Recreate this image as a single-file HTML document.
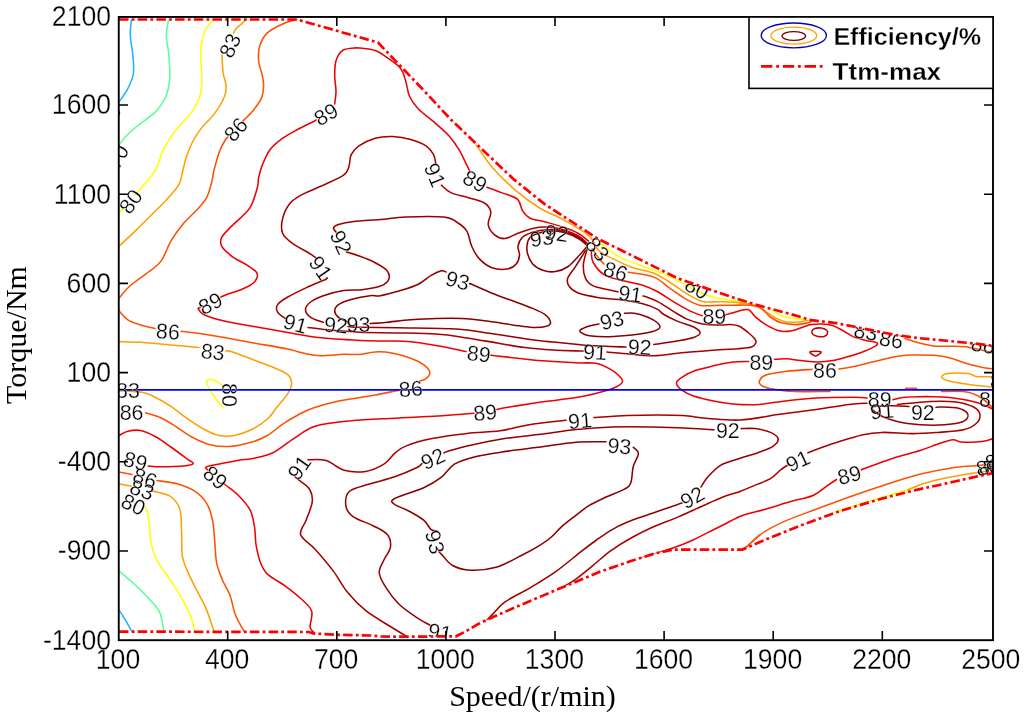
<!DOCTYPE html>
<html><head><meta charset="utf-8"><title>Efficiency map</title>
<style>
html,body{margin:0;padding:0;background:#fff;}
body{width:1024px;height:719px;overflow:hidden;}
svg{display:block;}
.tk{font-family:"Liberation Sans",Arial,sans-serif;font-size:28.6px;fill:#000;stroke:#fff;stroke-width:0.3px;}
.lb{font-family:"Liberation Sans",Arial,sans-serif;font-size:21.4px;fill:#000;text-anchor:middle;stroke:#fff;stroke-width:0.25px;}
.ax{font-family:"Liberation Serif","Times New Roman",serif;font-size:30px;fill:#000;text-anchor:middle;}
.lg{font-family:"Liberation Sans",Arial,sans-serif;font-size:24.3px;font-weight:bold;fill:#000;stroke:#fff;stroke-width:0.3px;}
.c{fill:none;stroke-width:1.55;stroke-linejoin:round;stroke-linecap:round;}
</style></head><body>
<svg width="1024" height="719" viewBox="0 0 1024 719">
<rect width="1024" height="719" fill="#fff"/>
<defs><clipPath id="cp"><rect x="119" y="17" width="874" height="623"/></clipPath>
<clipPath id="cq"><path d="M119.0 19.5L297.0 19.5L378.0 42.5L403.2 69.0L420.0 86.5L451.3 120.0L482.5 149.7L513.8 179.4L545.0 204.4L576.3 224.7L598.0 238.8L638.1 258.6L677.2 278.1L716.3 291.8L737.6 299.0L764.0 307.0L790.3 314.0L811.4 320.2L834.3 322.8L860.6 328.0L895.8 335.0L917.8 338.0L954.8 341.6L975.6 343.6L993.0 345.8L993.0 473.0L972.0 477.6L955.9 481.2L936.0 485.7L917.8 489.6L898.8 494.2L879.7 499.2L841.6 510.5L803.5 524.4L765.4 539.7L742.5 549.6L673.0 549.6L655.0 553.4L630.0 561.3L598.8 572.2L561.3 587.8L520.6 605.0L490.0 618.4L477.5 624.4L466.0 631.3L456.0 636.3L407.0 636.7L380.0 636.5L372.0 635.5L339.0 634.8L314.0 633.6L309.0 632.0L119.0 631.6Z"/></clipPath></defs>
<g clip-path="url(#cp)">
<g clip-path="url(#cq)">

<path class="c" stroke="#1eb4ff" d="M131.6 18.0C131.4 20.9 130.1 29.1 130.3 35.4C130.5 41.7 132.4 49.4 132.9 55.7C133.4 62.1 134.2 68.0 133.4 73.5C132.6 79.0 130.2 84.0 127.8 88.7C125.4 93.5 120.5 99.8 119.0 102.0"/>
<path class="c" stroke="#1eb4ff" d="M119.0 610.0C120.2 611.9 123.8 617.3 126.1 621.1C128.3 624.9 131.4 631.0 132.5 633.0"/>
<path class="c" stroke="#5aff96" d="M168.9 18.0C168.5 20.9 166.4 29.1 166.4 35.4C166.4 41.7 168.4 48.5 168.9 55.7C169.4 62.9 170.2 71.8 169.7 78.6C169.2 85.4 168.2 90.8 165.9 96.3C163.6 101.8 160.4 106.7 155.7 111.6C151.0 116.5 143.0 121.3 137.9 125.5C132.8 129.7 128.3 133.8 125.2 137.0C122.0 140.2 120.0 143.7 119.0 145.0"/>
<path class="c" stroke="#5aff96" d="M119.0 571.0C121.4 573.0 128.6 578.7 133.4 583.2C138.2 587.7 143.6 592.9 148.0 597.8C152.4 602.7 157.0 606.5 159.7 612.4C162.4 618.3 163.3 629.6 164.0 633.0"/>
<path class="c" stroke="#ffff00" d="M214.1 19.0C212.6 20.9 207.3 25.9 205.2 30.3C203.1 34.7 202.1 40.5 201.4 45.6C200.7 50.7 200.8 54.5 200.9 60.8C201.0 67.1 202.2 77.2 201.9 83.6C201.6 89.9 200.7 94.0 198.9 98.9C197.1 103.8 194.7 108.2 191.3 112.8C187.9 117.4 182.0 122.8 178.6 126.8C175.2 130.8 173.7 132.8 170.9 137.0C168.2 141.2 164.4 147.1 162.1 152.2C159.8 157.3 159.3 162.8 157.0 167.4C154.7 172.1 151.1 176.3 148.1 180.1C145.1 183.9 141.4 187.8 139.2 190.3C137.0 192.8 135.7 194.2 135.0 195.0"/>
<path class="c" stroke="#ffff00" d="M124.0 208.0C123.2 208.8 119.8 212.2 119.0 213.0"/>
<path class="c" stroke="#ffff00" d="M143.0 506.0C143.6 506.5 145.4 505.9 146.5 509.0C147.6 512.1 148.7 519.2 149.4 524.7C150.1 530.2 149.7 536.4 150.9 542.3C152.1 548.1 153.8 554.0 156.7 559.8C159.6 565.6 164.2 571.0 168.4 577.3C172.6 583.6 177.9 591.5 181.6 597.8C185.2 604.1 188.0 609.4 190.3 615.3C192.6 621.2 194.5 630.0 195.3 633.0"/>
<path class="c" stroke="#ffff00" d="M222.0 385.0C220.5 384.1 215.4 380.2 212.8 379.7C210.2 379.2 206.3 379.4 206.5 382.2C206.7 384.9 211.3 392.0 214.1 396.2C216.8 400.4 221.5 405.7 223.0 407.6"/>
<path class="c" stroke="#ffff00" d="M599.0 242.0C602.3 244.4 612.1 252.9 618.6 256.6C625.1 260.4 629.6 261.2 638.1 264.5C646.6 267.8 661.2 272.6 669.4 276.2C677.5 279.8 680.5 282.6 687.0 285.9C693.5 289.1 700.9 293.2 708.4 295.7C715.9 298.1 726.0 299.6 731.9 300.6C737.8 301.6 741.6 301.4 743.6 301.6"/>
<path class="c" stroke="#ffff00" d="M771.0 309.6C772.8 310.6 777.7 314.3 781.5 315.8C785.3 317.3 789.7 317.8 793.8 318.4C797.9 319.0 804.0 319.1 806.1 319.3"/>
<path class="c" stroke="#ffff00" d="M835.0 512.0C842.5 509.7 866.9 502.1 879.7 498.2C892.5 494.3 906.6 490.1 912.0 488.5"/>
<path class="c" stroke="#ffa000" d="M247.1 19.0C245.4 20.5 239.3 25.5 237.0 27.8C234.7 30.1 234.1 32.1 233.5 33.0"/>
<path class="c" stroke="#ffa000" d="M222.0 55.0C222.1 56.2 222.1 58.9 222.3 62.0C222.5 65.1 222.6 69.6 223.2 73.5C223.8 77.4 225.9 81.3 226.1 85.2C226.3 89.1 226.3 92.2 224.3 97.0C222.3 101.8 217.9 108.9 214.1 114.1C210.3 119.3 205.0 123.4 201.4 128.1C197.8 132.8 195.0 137.1 192.5 142.0C190.0 146.9 187.9 152.2 186.2 157.3C184.5 162.4 183.7 167.8 182.4 172.5C181.1 177.2 181.3 180.5 178.6 185.2C175.8 189.9 170.6 195.4 165.9 200.5C161.2 205.6 155.7 210.6 150.6 215.7C145.5 220.8 140.7 225.8 135.4 230.9C130.1 236.0 121.7 243.6 119.0 246.2"/>
<path class="c" stroke="#ffa000" d="M119.0 341.6C122.6 341.7 131.8 341.8 140.5 342.3C149.2 342.9 161.2 344.0 170.9 344.9C180.7 345.8 194.3 347.1 199.0 347.5"/>
<path class="c" stroke="#ffa000" d="M226.0 351.0C227.0 351.1 227.5 350.3 231.9 351.7C236.3 353.1 245.4 356.8 252.2 359.4C259.0 361.9 266.6 364.5 272.5 367.0C278.4 369.5 284.6 371.9 287.8 374.6C291.0 377.4 291.6 380.3 291.6 383.5C291.6 386.7 290.1 389.8 287.8 393.6C285.5 397.4 281.0 402.1 277.6 406.3C274.2 410.5 271.6 415.2 267.4 419.0C263.2 422.8 257.7 426.4 252.2 429.2C246.7 431.9 239.9 434.4 234.4 435.5C228.9 436.6 224.3 436.6 219.2 435.5C214.1 434.4 209.5 432.1 204.0 429.2C198.5 426.2 191.7 421.6 186.2 417.8C180.7 414.0 176.0 409.7 170.9 406.3C165.8 402.9 160.3 399.8 155.7 397.5C151.0 395.2 149.1 393.5 143.0 392.4C136.9 391.2 123.0 390.9 119.0 390.6"/>
<path class="c" stroke="#ffa000" d="M119.0 484.0C121.0 484.3 129.0 485.7 131.0 486.0"/>
<path class="c" stroke="#ffa000" d="M152.0 491.0C152.8 491.2 153.5 491.0 156.7 492.0C159.9 493.0 167.4 494.0 171.3 497.0C175.2 500.0 178.4 504.0 180.1 510.1C181.8 516.2 181.2 525.7 181.6 533.5C182.0 541.3 181.3 550.1 182.5 556.9C183.7 563.7 186.4 568.6 188.9 574.4C191.4 580.2 194.7 586.1 197.6 591.9C200.5 597.7 203.6 602.5 206.4 609.4C209.2 616.2 213.2 629.1 214.6 633.0"/>
<path class="c" stroke="#ffa000" d="M476.3 145.0C478.9 148.7 485.6 159.6 491.9 166.9C498.1 174.2 506.0 182.0 513.8 188.8C521.6 195.6 530.5 202.3 538.8 207.5C547.1 212.7 555.5 215.3 563.8 220.0C572.1 224.7 582.9 230.5 588.8 235.6C594.7 240.7 595.0 247.0 599.0 250.8C603.0 254.6 607.2 255.8 612.7 258.6C618.2 261.4 625.4 265.0 632.3 267.4C639.1 269.8 647.6 270.8 653.8 273.2C660.0 275.6 663.9 278.6 669.4 282.0C674.9 285.4 681.5 290.6 687.0 293.8C692.5 297.1 697.1 300.2 702.6 301.5C708.1 302.8 714.2 301.5 720.0 301.7C725.8 301.9 731.7 302.0 737.6 302.6C743.5 303.2 750.5 303.7 755.2 305.2C759.9 306.7 762.2 309.2 765.7 311.4C769.2 313.6 772.7 316.6 776.2 318.4C779.7 320.1 783.0 321.3 786.8 321.9C790.6 322.5 795.6 322.2 799.1 321.9C802.6 321.6 806.5 320.5 808.0 320.2"/>
<path class="c" stroke="#ffa000" d="M993.0 376.9C990.1 376.8 979.8 376.9 975.9 376.4C972.0 375.9 972.6 374.4 969.7 373.8C966.9 373.2 962.7 373.0 958.8 373.0C954.9 373.0 949.2 373.1 946.3 373.8C943.4 374.5 941.1 376.0 941.6 377.2C942.1 378.4 946.0 380.1 949.4 381.1C952.8 382.1 958.0 382.8 961.9 383.4C965.8 384.0 968.6 384.5 972.8 385.0C977.0 385.5 983.5 386.2 986.9 386.6C990.3 387.0 992.0 387.2 993.0 387.3"/>
<path class="c" stroke="#ffa000" d="M907.6 490.1C910.1 489.1 916.0 485.9 922.8 483.8C929.6 481.7 938.9 479.4 948.2 477.5C957.5 475.6 971.2 473.6 978.7 472.4C986.2 471.1 990.6 470.4 993.0 470.0"/>
<path class="c" stroke="#ff5000" d="M297.9 19.0C295.4 19.8 287.8 21.7 282.7 24.0C277.6 26.3 271.2 29.3 267.4 32.9C263.6 36.5 261.3 41.0 259.8 45.6C258.3 50.2 258.2 55.7 258.6 60.8C259.0 65.9 261.6 71.8 262.4 76.0C263.2 80.2 263.8 82.4 263.6 86.2C263.4 90.0 263.0 94.7 261.1 98.9C259.2 103.1 255.2 107.9 252.2 111.6C249.2 115.3 244.5 119.4 243.0 121.0"/>
<path class="c" stroke="#ff5000" d="M228.0 137.0C227.6 137.4 227.0 137.0 225.5 139.5C224.0 142.0 221.1 147.1 219.2 152.2C217.3 157.3 215.4 164.9 214.1 170.0C212.8 175.1 212.9 178.0 211.6 182.7C210.3 187.3 209.1 193.2 206.5 197.9C203.9 202.6 200.1 206.4 196.3 210.6C192.5 214.8 187.8 218.2 183.6 223.3C179.4 228.4 174.7 234.8 170.9 241.1C167.1 247.4 165.0 255.9 160.8 261.4C156.6 266.9 150.7 270.1 145.6 274.1C140.5 278.1 134.7 281.5 130.3 285.5C125.9 289.5 120.9 296.1 119.0 298.2"/>
<path class="c" stroke="#ff5000" d="M119.0 310.9C120.5 312.4 124.2 317.5 127.8 319.8C131.4 322.1 136.0 323.4 140.5 324.9C145.0 326.3 152.6 327.9 155.0 328.5"/>
<path class="c" stroke="#ff5000" d="M181.1 331.3C184.5 331.7 194.2 332.8 201.4 333.8C208.6 334.9 215.8 336.1 224.3 337.6C232.8 339.1 241.6 340.8 252.2 342.7C262.8 344.6 280.2 347.5 287.8 349.0C295.4 350.5 292.8 350.6 297.9 351.7C303.0 352.8 310.6 355.2 318.2 355.6C325.8 356.0 336.6 354.5 343.6 354.3C350.6 354.1 354.7 354.8 360.0 354.4C365.3 354.0 369.7 352.1 375.2 351.9C380.7 351.7 387.1 352.1 393.0 353.2C398.9 354.2 405.7 356.3 410.8 358.2C415.9 360.1 420.3 362.3 423.5 364.6C426.7 366.9 429.4 369.9 429.8 372.2C430.2 374.5 427.7 377.1 426.0 378.6C424.3 380.1 420.8 380.7 419.7 381.1"/>
<path class="c" stroke="#ff5000" d="M398.0 390.5C394.2 391.2 381.8 393.8 375.2 395.0C368.6 396.2 364.6 396.8 358.5 397.8C352.4 398.8 346.1 399.3 338.5 401.0C330.9 402.7 320.0 405.7 313.2 408.0C306.4 410.3 303.0 412.3 297.9 415.0C292.8 417.7 287.8 420.7 282.7 424.1C277.6 427.5 272.5 432.5 267.4 435.5C262.3 438.5 258.5 440.1 252.2 441.9C245.8 443.7 236.5 446.1 229.3 446.5C222.1 446.9 215.3 446.0 209.0 444.4C202.7 442.8 196.8 439.8 191.3 436.8C185.8 433.9 181.1 429.9 176.0 426.7C170.9 423.5 165.9 420.1 160.8 417.8C155.7 415.5 148.1 413.6 145.6 412.7"/>
<path class="c" stroke="#ff5000" d="M119.0 472.0C121.2 472.4 129.8 474.1 132.0 474.5"/>
<path class="c" stroke="#ff5000" d="M157.0 480.5C160.4 481.1 170.9 482.0 177.2 483.8C183.5 485.6 189.8 487.9 194.7 491.1C199.6 494.3 203.5 498.2 206.4 502.8C209.3 507.4 210.9 512.8 212.3 518.9C213.7 525.0 213.9 532.0 214.6 539.3C215.3 546.6 215.3 555.9 216.6 562.7C217.9 569.5 220.3 574.9 222.5 580.2C224.7 585.6 227.6 588.9 229.8 594.8C232.0 600.6 233.1 608.9 235.6 615.3C238.1 621.7 243.4 630.0 245.0 633.0"/>
<path class="c" stroke="#ff5000" d="M592.2 248.8C593.3 250.4 597.0 256.1 599.0 258.6C601.0 261.1 603.2 263.1 604.0 264.0"/>
<path class="c" stroke="#ff5000" d="M628.4 272.3C632.6 273.1 647.0 274.5 653.8 277.1C660.6 279.7 664.2 284.3 669.4 287.9C674.6 291.5 679.8 295.7 685.0 298.6C690.2 301.5 694.8 304.3 700.6 305.4C706.4 306.5 714.4 305.2 720.0 305.2C725.6 305.2 729.1 305.2 734.1 305.2C739.1 305.2 745.5 304.8 749.9 305.2C754.3 305.6 756.9 305.8 760.4 307.9C763.9 309.9 767.5 315.0 771.0 317.5C774.5 320.0 777.4 321.6 781.5 322.8C785.6 324.0 791.2 324.6 795.6 324.6C800.0 324.6 805.2 323.4 807.9 322.8C810.6 322.2 811.3 321.3 812.0 321.0"/>
<path class="c" stroke="#ff5000" d="M812.0 369.4C807.6 369.7 793.5 370.4 785.7 371.4C777.9 372.4 769.8 373.4 765.4 375.2C761.0 377.0 759.5 380.1 759.2 382.0C759.0 383.9 761.5 385.5 763.9 386.7C766.2 387.9 768.2 388.2 773.3 389.0C778.4 389.8 784.9 391.1 794.4 391.5C803.9 391.9 824.1 391.5 830.0 391.5"/>
<path class="c" stroke="#ff5000" d="M839.0 369.0C841.8 368.6 850.2 367.4 855.6 366.3C861.0 365.2 866.1 363.6 871.3 362.3C876.5 361.0 882.2 359.4 886.9 358.4C891.6 357.4 895.2 356.7 899.4 356.1C903.6 355.5 906.2 355.1 911.9 355.0C917.6 354.9 927.5 354.9 933.8 355.3C940.0 355.8 944.2 356.4 949.4 357.7C954.6 359.0 959.8 361.6 965.0 363.1C970.2 364.7 975.9 366.0 980.6 367.0C985.3 368.0 990.9 368.7 993.0 369.0"/>
<path class="c" stroke="#ff5000" d="M905.0 338.5C905.6 338.7 906.1 338.8 908.8 339.7C911.5 340.6 917.1 342.6 921.3 343.6C925.5 344.6 929.1 345.4 933.8 345.9C938.5 346.3 944.2 346.2 949.4 346.3C954.6 346.4 959.8 346.1 965.0 346.7C970.2 347.3 975.9 348.8 980.6 349.8C985.3 350.9 990.9 352.5 993.0 353.0"/>
<path class="c" stroke="#ff5000" d="M745.0 548.6C747.5 546.3 753.9 539.1 760.3 534.6C766.7 530.1 773.9 526.1 783.2 521.9C792.5 517.7 804.4 513.6 816.2 509.2C828.1 504.8 841.6 499.6 854.3 495.2C867.0 490.8 881.0 486.1 892.4 482.5C903.8 478.9 912.2 476.1 922.8 473.6C933.4 471.1 946.6 468.7 955.9 467.3C965.2 465.9 972.5 466.1 978.7 465.5C984.9 464.9 990.6 464.2 993.0 464.0"/>
<path class="c" stroke="#ff5000" d="M760.0 534.9C758.6 536.2 754.1 540.2 751.4 542.5C748.7 544.8 745.1 547.8 743.8 548.9"/>
<path class="c" stroke="#ff5000" d="M905.6 388.3C907.4 388.3 914.8 388.3 916.6 388.3"/>
<path class="c" stroke="#ff5000" d="M941.6 391.5C945.2 391.5 957.6 391.1 963.0 391.5C968.4 391.9 970.7 392.8 974.0 394.0C977.3 395.2 979.8 396.7 983.0 399.0C986.2 401.3 991.3 406.5 993.0 408.0"/>
<path class="c" stroke="#ee0000" d="M469.7 171.2C469.2 170.1 468.5 168.5 466.7 164.9C464.9 161.3 462.0 154.6 459.0 149.7C456.0 144.8 453.1 140.4 448.9 135.7C444.7 131.0 438.7 126.2 433.6 121.7C428.5 117.2 422.4 113.2 418.4 109.0C414.4 104.8 411.6 101.0 409.5 96.3C407.4 91.6 407.2 85.8 405.7 81.1C404.2 76.4 403.6 72.2 400.6 68.4C397.6 64.6 392.1 61.2 387.9 58.2C383.7 55.2 379.8 52.3 375.2 50.6C370.6 48.9 363.6 48.5 360.0 48.1C356.4 47.7 356.7 47.7 353.8 48.1C350.9 48.5 345.4 48.5 342.4 50.6C339.4 52.7 337.3 56.6 336.0 60.8C334.7 65.0 334.7 70.9 334.7 76.0C334.7 81.1 336.0 86.6 336.0 91.3C336.0 96.0 334.9 101.9 334.7 104.0"/>
<path class="c" stroke="#ee0000" d="M316.0 120.0C315.5 120.3 316.2 120.2 313.2 121.7C310.2 123.2 303.0 126.6 297.9 129.3C292.8 132.1 287.3 134.8 282.7 138.2C278.1 141.6 273.4 145.2 270.0 149.7C266.6 154.1 264.3 160.2 262.4 164.9C260.5 169.6 259.5 173.8 258.6 177.6C257.8 181.4 258.8 182.7 257.3 187.8C255.8 192.9 253.9 201.8 249.7 208.1C245.5 214.4 236.6 221.0 231.9 225.9C227.2 230.8 223.4 233.9 221.7 237.3C220.0 240.7 220.0 243.0 221.7 246.2C223.4 249.4 227.7 253.1 231.9 256.3C236.1 259.5 242.9 262.4 247.1 265.2C251.2 267.9 255.5 270.1 256.8 272.8C258.1 275.6 257.2 278.9 254.7 281.7C252.2 284.4 246.7 287.2 242.0 289.3C237.3 291.4 230.3 293.1 226.8 294.4C223.3 295.7 222.0 296.6 221.0 297.0"/>
<path class="c" stroke="#ee0000" d="M200.0 307.5C199.7 307.8 197.7 307.8 198.4 309.0C199.1 310.2 199.7 312.7 204.0 314.7C208.3 316.7 216.3 319.2 224.3 321.1C232.3 323.0 241.6 324.3 252.2 326.2C262.8 328.1 276.8 330.6 287.8 332.5C298.8 334.4 306.2 336.3 318.2 337.6C330.2 338.9 348.8 339.9 360.0 340.5C371.2 341.1 376.9 340.8 385.4 341.0C393.9 341.2 402.3 340.9 410.8 341.7C419.3 342.5 427.0 344.0 436.2 345.6C445.4 347.2 461.0 350.5 466.0 351.5"/>
<path class="c" stroke="#ee0000" d="M491.0 355.3C491.6 355.4 490.2 355.2 494.6 355.7C499.0 356.2 509.4 357.3 517.4 358.2C525.4 359.1 533.1 360.0 542.8 360.8C552.5 361.6 566.9 362.4 575.8 362.8C584.7 363.2 590.7 362.4 596.2 363.3C601.7 364.2 605.3 366.5 608.9 368.4C612.5 370.3 615.7 372.6 618.0 374.8C620.3 377.0 622.8 379.5 622.5 381.5C622.2 383.5 619.1 385.4 616.0 387.0C612.9 388.6 609.2 389.8 603.8 391.3C598.4 392.9 591.1 394.9 583.5 396.3C575.9 397.7 566.9 398.7 558.0 399.9C549.1 401.1 539.1 402.3 530.0 403.7C520.9 405.1 508.8 407.1 503.3 408.1C497.8 409.1 498.1 409.3 497.0 409.5"/>
<path class="c" stroke="#ee0000" d="M473.0 413.3C472.6 413.3 476.5 413.1 470.7 413.5C464.9 413.9 450.8 415.2 438.1 416.0C425.4 416.8 409.2 417.4 394.7 418.2C380.2 419.0 364.6 419.5 351.3 420.8C338.0 422.1 324.8 423.2 315.1 426.2C305.5 429.2 300.6 434.3 293.4 438.8C286.2 443.3 278.9 449.9 271.7 453.3C264.5 456.7 254.9 457.9 250.0 459.0C245.1 460.1 246.7 458.9 242.0 459.7C237.3 460.4 227.6 462.3 221.7 463.5C215.8 464.7 208.8 465.7 206.5 466.8C204.2 467.9 207.8 469.5 208.0 470.0"/>
<path class="c" stroke="#ee0000" d="M224.0 484.0C224.5 484.3 224.5 484.1 226.9 486.0C229.3 487.9 234.6 491.5 238.5 495.5C242.4 499.5 247.5 504.8 250.2 510.1C252.9 515.5 253.6 521.8 254.6 527.6C255.6 533.5 255.1 539.4 256.1 545.2C257.1 551.1 258.6 557.8 260.5 562.7C262.4 567.6 263.7 570.5 267.8 574.4C271.9 578.3 280.0 582.2 285.3 586.1C290.6 590.0 295.5 593.7 299.9 597.8C304.3 601.9 309.9 606.0 311.6 610.9C313.3 615.8 309.6 623.3 310.1 627.0C310.6 630.7 313.8 632.0 314.5 633.0"/>
<path class="c" stroke="#ee0000" d="M119.0 435.5C120.5 434.8 124.2 432.0 127.8 431.2C131.4 430.4 135.8 429.6 140.5 430.5C145.2 431.4 150.6 434.1 155.7 436.8C160.8 439.6 165.8 443.4 170.9 447.0C176.0 450.6 182.5 455.6 186.2 458.4C189.9 461.1 193.7 462.2 193.3 463.5C192.9 464.8 189.0 465.4 183.6 466.0C178.2 466.6 166.7 466.8 160.8 466.8C154.9 466.8 150.2 466.1 148.1 466.0"/>
<path class="c" stroke="#ee0000" d="M487.0 187.3C489.5 188.2 497.1 190.9 502.2 192.9C507.3 194.9 514.0 196.2 517.4 199.2C520.8 202.1 520.4 207.4 522.5 210.6C524.6 213.8 526.3 216.3 530.1 218.2C533.9 220.1 539.9 220.5 545.4 222.0C550.9 223.5 557.6 225.2 563.1 227.1C568.6 229.0 574.2 231.2 578.4 233.5C582.6 235.8 586.8 239.8 588.5 241.1"/>
<path class="c" stroke="#ee0000" d="M591.3 250.8C591.6 252.8 590.9 258.4 593.2 262.5C595.5 266.6 599.7 272.1 604.9 275.2C610.1 278.3 618.3 279.5 624.5 281.1C630.7 282.7 636.5 283.2 642.0 285.0C647.5 286.8 652.5 289.0 657.7 291.8C662.9 294.6 668.1 298.5 673.3 301.6C678.5 304.7 684.1 308.0 688.9 310.4C693.7 312.8 699.8 314.9 702.0 315.8"/>
<path class="c" stroke="#ee0000" d="M725.3 314.9C727.3 314.3 733.8 312.3 737.6 311.4C741.4 310.5 745.2 308.7 748.1 309.6C751.0 310.5 752.3 314.1 755.2 316.6C758.1 319.1 761.6 322.2 765.7 324.6C769.8 327.0 775.4 330.1 779.8 331.1C784.2 332.1 788.3 331.4 792.1 330.7C795.9 330.0 799.4 328.2 802.6 327.2C805.8 326.2 808.2 325.1 811.4 324.6C814.6 324.1 818.4 323.9 821.9 324.0C825.4 324.1 829.0 324.3 832.5 325.4C836.0 326.5 839.5 328.8 843.0 330.7C846.5 332.6 849.8 335.3 853.6 336.9C857.4 338.5 862.0 339.4 865.9 340.4C869.8 341.4 876.1 341.8 877.3 343.0C878.5 344.2 875.7 345.8 872.9 347.4C870.1 349.0 865.0 351.1 860.6 352.7C856.2 354.3 851.3 355.8 846.6 357.1C841.9 358.4 837.2 359.8 832.5 360.6C827.8 361.4 823.7 362.0 818.4 362.0C813.1 362.0 806.2 361.1 800.9 360.6C795.6 360.1 791.2 359.0 786.8 358.8C782.4 358.6 776.5 359.2 774.5 359.3"/>
<path class="c" stroke="#ee0000" d="M748.5 361.5C746.0 361.6 739.0 361.4 733.4 362.1C727.8 362.8 721.0 364.2 714.7 365.6C708.5 367.0 701.4 368.4 695.9 370.3C690.4 372.2 685.1 375.2 681.9 377.3C678.7 379.4 676.5 381.1 676.5 383.2C676.5 385.3 679.0 388.0 681.9 390.2C684.8 392.4 688.5 394.3 693.6 396.1C698.7 397.9 705.3 399.4 712.3 400.8C719.3 402.2 728.0 403.7 735.8 404.3C743.6 404.9 752.2 404.9 759.2 404.5C766.2 404.1 768.5 403.0 778.0 401.9C787.5 400.8 803.5 398.9 816.2 398.1C828.9 397.3 845.8 397.3 854.3 397.3C862.8 397.3 864.9 397.9 867.0 398.0"/>
<path class="c" stroke="#ee0000" d="M893.0 399.8C894.6 399.4 898.3 398.0 902.5 397.5C906.7 397.0 912.8 396.8 918.0 396.7C923.2 396.6 928.6 396.6 933.8 396.7C939.0 396.8 944.2 397.0 949.4 397.5C954.6 398.0 959.8 398.8 965.0 399.8C970.2 400.9 975.9 402.2 980.6 403.8C985.3 405.4 990.9 408.3 993.0 409.2"/>
<path class="c" stroke="#ee0000" d="M642.2 557.8C645.6 556.7 656.6 553.3 662.5 551.4C668.4 549.5 672.7 548.2 677.8 546.3C682.9 544.4 687.9 542.3 693.0 540.0C698.1 537.7 703.1 534.9 708.2 532.4C713.3 529.9 718.0 527.5 723.5 524.8C729.0 522.0 734.2 518.5 741.2 515.9C748.2 513.3 757.1 511.6 765.4 509.2C773.7 506.8 782.8 503.9 790.8 501.6C798.8 499.3 807.7 497.8 813.6 495.2C819.5 492.6 822.5 488.9 826.3 486.3C830.1 483.7 834.8 480.6 836.5 479.5"/>
<path class="c" stroke="#ee0000" d="M861.5 469.8C862.0 469.6 859.2 470.5 864.4 468.6C869.5 466.7 883.1 461.4 892.4 458.4C901.7 455.4 912.4 452.9 920.0 450.5C927.6 448.1 932.5 445.8 938.0 444.0C943.5 442.2 949.2 440.1 953.0 439.8C956.8 439.5 956.2 441.7 961.0 442.0C965.8 442.3 976.7 442.2 982.0 441.6C987.3 441.0 991.2 439.1 993.0 438.6"/>
<path class="c" stroke="#a80000" d="M435.7 163.6C435.4 162.1 435.2 157.6 433.6 154.7C432.0 151.8 429.8 148.4 426.0 145.9C422.2 143.4 416.3 141.1 410.8 139.5C405.3 137.9 398.9 136.7 393.0 136.5C387.1 136.3 380.9 136.6 375.2 138.2C369.5 139.8 362.9 143.2 358.9 145.9C354.9 148.7 352.9 151.1 351.2 154.7C349.5 158.3 350.0 164.0 348.7 167.4C347.4 170.8 347.4 172.3 343.6 175.1C339.8 177.9 332.7 180.8 325.9 184.0C319.1 187.2 308.9 190.9 303.0 194.1C297.1 197.3 293.7 199.0 290.3 203.0C286.9 207.0 284.0 213.1 282.7 218.2C281.4 223.3 281.0 229.3 282.7 233.5C284.4 237.7 288.6 240.4 292.8 243.6C297.0 246.8 304.3 250.2 308.1 252.5C311.9 254.8 314.4 256.8 315.7 257.6"/>
<path class="c" stroke="#a80000" d="M326.5 278.0C326.4 278.2 329.0 277.7 325.9 279.2C322.8 280.7 314.5 283.8 308.1 286.8C301.8 289.8 292.9 294.0 287.8 297.0C282.7 300.0 279.3 302.1 277.6 304.6C275.9 307.1 276.3 309.9 277.6 312.2C278.9 314.5 283.9 317.4 285.2 318.5"/>
<path class="c" stroke="#a80000" d="M308.1 327.4C311.1 327.8 317.2 328.9 325.9 329.7C334.5 330.5 348.0 331.8 360.0 332.3C372.0 332.8 385.4 332.6 398.1 332.9C410.8 333.2 424.8 333.3 436.2 334.1C447.6 334.9 456.5 336.4 466.7 337.9C476.9 339.4 487.4 341.4 497.1 343.0C506.8 344.6 515.7 346.4 525.0 347.6C534.3 348.8 543.3 349.5 553.0 350.1C562.7 350.7 578.0 350.9 583.0 351.1"/>
<path class="c" stroke="#a80000" d="M606.9 352.0C609.6 352.2 615.5 352.8 623.3 353.4C631.1 354.0 643.9 355.9 653.7 355.8C663.5 355.7 672.5 353.6 681.9 352.7C691.3 351.8 700.6 351.1 710.0 350.4C719.4 349.7 731.1 349.3 738.0 348.7C744.9 348.1 748.6 348.0 751.6 347.0C754.6 346.0 755.5 343.9 756.0 342.5C756.5 341.1 755.8 340.2 754.5 338.5C753.2 336.8 750.6 334.5 748.1 332.5C745.6 330.5 742.2 327.6 739.3 326.3C736.4 325.0 733.7 324.8 730.5 324.6C727.3 324.4 724.9 325.1 720.2 325.0C715.6 324.9 708.1 325.0 702.6 324.0C697.1 323.0 691.9 321.2 687.0 319.1C682.1 317.0 678.2 314.2 673.3 311.3C668.4 308.4 662.3 304.0 657.7 301.6C653.1 299.2 648.4 297.6 645.9 296.7C643.4 295.8 643.5 296.1 643.0 296.0"/>
<path class="c" stroke="#a80000" d="M441.3 185.2C443.0 186.5 446.8 190.8 451.4 192.9C456.0 195.0 463.7 196.2 469.2 197.9C474.7 199.6 480.8 200.7 484.4 203.0C488.0 205.3 490.2 208.3 490.8 211.9C491.4 215.5 487.6 220.8 488.2 224.6C488.8 228.4 491.9 232.5 494.6 234.8C497.4 237.1 500.9 238.8 504.7 238.6C508.5 238.4 512.7 235.2 517.4 233.5C522.1 231.8 527.6 229.5 532.7 228.4C537.8 227.3 542.8 226.9 547.9 227.1C553.0 227.3 558.0 228.2 563.1 229.7C568.2 231.2 574.4 233.7 578.4 236.0C582.4 238.3 585.8 242.3 587.3 243.6"/>
<path class="c" stroke="#a80000" d="M587.3 248.8C586.6 251.4 583.7 259.6 583.4 264.5C583.1 269.4 583.8 274.5 585.4 278.1C587.0 281.7 589.3 283.9 593.2 285.9C597.1 287.8 604.7 288.8 608.8 289.8C612.9 290.8 616.5 291.5 618.0 291.8"/>
<path class="c" stroke="#a80000" d="M307.9 459.8C310.9 459.9 320.0 458.8 326.0 460.5C332.0 462.2 337.5 468.5 344.1 470.3C350.7 472.1 359.2 472.4 365.8 471.4C372.4 470.4 379.1 467.2 383.9 464.2C388.7 461.2 391.1 456.3 394.7 453.3C398.3 450.3 399.6 448.5 405.6 446.1C411.6 443.7 420.6 440.9 430.9 438.8C441.1 436.7 455.6 434.7 467.1 433.4C478.6 432.1 489.4 432.3 500.0 430.8C510.6 429.3 519.5 426.2 530.5 424.4C541.5 422.6 560.1 420.9 566.0 420.2"/>
<path class="c" stroke="#a80000" d="M594.0 417.6C599.5 417.3 616.4 416.0 627.0 415.6C637.6 415.2 648.1 415.0 657.4 415.0C666.7 415.0 674.3 415.0 682.8 415.6C691.3 416.2 698.7 417.7 708.2 418.4C717.7 419.1 728.4 420.6 740.0 420.0C751.6 419.4 765.3 416.4 778.0 414.6C790.7 412.9 804.3 411.2 816.2 409.5C828.1 407.8 840.7 405.4 849.2 404.4C857.7 403.3 864.0 403.4 867.0 403.2"/>
<path class="c" stroke="#a80000" d="M897.4 404.4C902.9 403.9 920.8 401.8 930.5 401.4C940.2 401.0 948.7 401.0 955.9 401.9C963.1 402.8 969.6 404.9 973.6 407.0C977.6 409.1 979.6 411.9 980.0 414.6C980.4 417.4 979.0 421.0 976.2 423.5C973.5 426.0 969.9 428.3 963.5 429.8C957.1 431.3 946.6 431.8 938.1 432.4C929.6 433.0 922.0 433.6 912.7 433.6C903.4 433.6 890.7 432.2 882.2 432.4C873.7 432.6 869.5 433.2 861.9 434.9C854.3 436.6 845.0 439.8 836.5 442.5C828.0 445.2 815.9 449.6 811.1 451.4C806.4 453.1 808.5 452.7 808.0 453.0"/>
<path class="c" stroke="#a80000" d="M787.0 465.5C785.9 466.2 783.4 467.6 780.6 469.8C777.9 472.0 774.7 476.1 770.5 478.7C766.3 481.2 760.3 483.0 755.2 485.1C750.1 487.2 745.3 489.4 740.0 491.4C734.7 493.3 729.6 494.4 723.5 496.8C717.4 499.2 710.7 502.3 703.1 505.7C695.5 509.1 686.2 513.5 677.8 517.1C669.3 520.7 660.0 523.9 652.4 527.3C644.8 530.7 638.9 533.7 632.0 537.5C625.1 541.3 617.9 545.6 611.3 550.3C604.7 555.0 598.2 561.2 592.5 565.9C586.8 570.6 581.6 575.0 576.9 578.4C572.2 581.8 566.5 585.0 564.4 586.3"/>
<path class="c" stroke="#a80000" d="M295.0 477.0C295.6 477.5 296.4 477.9 298.8 480.0C301.2 482.1 307.5 485.8 309.7 489.5C311.9 493.2 312.8 497.1 312.2 502.2C311.6 507.3 308.0 514.8 306.1 520.2C304.2 525.6 299.2 529.9 300.7 534.7C302.2 539.5 309.7 543.2 315.1 549.2C320.5 555.2 327.8 563.7 333.2 570.9C338.6 578.1 342.3 586.0 347.7 592.6C353.1 599.2 358.6 605.0 365.8 610.7C373.0 616.4 383.9 622.5 391.1 627.0C398.3 631.5 406.2 636.0 409.2 637.8"/>
<path class="c" stroke="#980000" d="M336.0 232.0C335.6 231.3 333.1 229.2 333.5 228.0C333.9 226.8 335.1 225.7 338.5 224.6C341.9 223.5 346.8 222.3 353.8 221.5C360.8 220.7 371.7 220.2 380.3 219.5C388.9 218.8 395.1 217.4 405.7 217.0C416.3 216.6 435.3 216.2 443.8 217.0C452.3 217.8 452.7 219.7 456.5 222.0C460.3 224.3 464.2 226.9 466.7 230.9C469.2 234.9 469.6 241.5 471.7 246.2C473.8 250.9 476.0 255.3 479.4 258.9C482.8 262.5 487.4 266.1 492.0 267.8C496.6 269.5 503.3 269.6 507.3 269.0C511.3 268.4 514.2 266.3 516.2 264.0C518.2 261.7 519.2 258.1 519.5 255.1C519.8 252.1 517.5 249.2 518.0 246.2C518.5 243.2 520.0 239.6 522.5 237.3C525.0 235.0 528.5 233.5 532.7 232.2C536.9 230.9 542.8 229.9 547.9 229.7C553.0 229.5 558.0 229.6 563.1 230.9C568.2 232.2 574.4 235.0 578.4 237.3C582.4 239.6 585.8 243.6 587.3 244.9"/>
<path class="c" stroke="#980000" d="M346.5 252.0C348.8 252.7 355.2 254.5 360.0 256.3C364.8 258.1 370.8 260.4 375.2 262.7C379.6 265.0 384.4 267.8 386.7 270.3C389.0 272.8 389.6 275.6 389.2 277.9C388.8 280.2 386.9 282.6 384.1 284.3C381.4 286.0 376.7 287.2 372.7 288.1C368.7 289.0 364.9 289.5 360.0 289.9C355.1 290.3 349.7 289.6 343.6 290.6C337.5 291.6 328.8 293.8 323.3 295.7C317.8 297.6 313.6 299.7 310.6 302.0C307.6 304.3 305.5 307.1 305.5 309.7C305.5 312.2 307.6 315.2 310.6 317.3C313.6 319.4 321.2 321.5 323.3 322.4"/>
<path class="c" stroke="#980000" d="M348.0 326.5C350.0 326.6 351.6 327.1 360.0 327.3C368.4 327.5 382.0 327.5 398.1 327.8C414.2 328.1 441.7 328.1 456.5 329.0C471.3 329.9 477.7 331.6 487.0 332.9C496.3 334.2 503.9 335.4 512.4 336.7C520.9 338.0 529.3 339.4 537.8 340.5C546.2 341.6 554.6 342.1 563.1 343.0C571.6 343.9 578.0 344.9 588.5 345.6C599.0 346.3 619.8 346.8 626.0 347.0"/>
<path class="c" stroke="#980000" d="M653.7 344.5C657.6 343.9 670.6 342.2 677.2 341.0C683.9 339.8 689.8 338.9 693.6 337.5C697.4 336.1 700.1 334.6 700.1 332.8C700.1 331.1 697.4 328.9 693.6 327.0C689.8 325.1 682.3 323.3 677.2 321.1C672.1 318.9 666.2 315.9 663.0 314.0C659.8 312.1 661.2 311.1 657.7 309.4C654.2 307.6 648.5 305.1 642.0 303.5C635.5 301.9 625.8 300.6 618.6 299.6C611.4 298.6 605.8 298.8 599.0 297.7C592.2 296.6 582.6 294.8 577.6 292.8C572.6 290.8 570.4 288.3 568.8 285.9C567.2 283.4 566.7 281.4 567.8 278.1C568.9 274.9 572.7 270.9 575.6 266.4C578.5 261.8 583.8 253.4 585.4 250.8"/>
<path class="c" stroke="#980000" d="M422.0 463.5C421.1 464.2 421.1 465.6 416.5 467.8C411.9 470.0 402.6 474.1 394.7 476.8C386.8 479.5 376.9 481.7 369.4 484.1C361.9 486.5 353.4 487.7 349.5 491.3C345.6 494.9 345.3 501.6 345.9 505.8C346.5 510.0 348.5 513.3 353.0 516.6C357.5 519.9 367.2 522.7 373.0 525.7C378.8 528.7 384.6 531.1 387.5 534.7C390.4 538.3 391.0 543.2 390.4 547.4C389.8 551.6 385.8 555.8 383.9 560.0C382.0 564.2 378.9 568.2 379.2 572.7C379.5 577.2 382.5 582.1 385.7 587.2C388.9 592.3 393.5 598.7 398.3 603.5C403.1 608.3 409.4 612.5 414.6 616.1C419.9 619.7 427.3 623.7 429.8 625.2"/>
<path class="c" stroke="#980000" d="M444.0 453.0C444.5 452.8 443.3 452.6 447.2 451.5C451.1 450.4 457.8 448.2 467.1 446.1C476.5 444.0 491.5 440.7 503.3 438.8C515.1 436.9 526.0 436.2 538.1 434.6C550.2 433.1 563.9 430.8 576.2 429.5C588.5 428.2 599.0 427.4 611.7 427.0C624.4 426.6 639.7 426.8 652.4 427.0C665.1 427.2 677.6 427.7 687.9 428.2C698.2 428.7 709.6 429.5 714.0 429.8"/>
<path class="c" stroke="#980000" d="M741.2 428.6C743.5 428.6 750.3 428.0 755.2 428.6C760.1 429.2 766.7 430.7 770.5 432.4C774.3 434.1 777.7 436.4 778.1 438.7C778.5 441.0 776.4 444.0 773.0 446.3C769.6 448.6 763.5 450.6 757.8 452.7C752.1 454.8 744.9 456.6 738.7 458.7C732.6 460.8 726.0 462.1 720.9 465.1C715.8 468.1 711.5 472.9 708.2 476.5C704.9 480.1 702.2 485.2 701.0 487.0"/>
<path class="c" stroke="#980000" d="M682.0 503.0C681.3 503.2 682.7 502.7 677.8 504.4C672.9 506.1 660.9 510.3 652.4 513.3C643.9 516.3 633.8 519.5 627.0 522.2C620.2 525.0 616.8 526.8 611.7 529.8C606.6 532.8 601.6 536.4 596.5 540.0C591.4 543.6 588.2 546.0 581.3 551.4C574.4 556.8 563.5 566.1 555.0 572.2C546.5 578.3 538.3 582.8 530.0 587.8C521.7 592.8 511.2 597.5 505.0 601.9C498.8 606.3 496.1 610.8 492.5 614.4C488.9 618.0 486.0 621.4 483.1 623.8C480.2 626.2 476.4 628.1 475.0 629.0"/>
<path class="c" stroke="#980000" d="M909.0 406.5C906.2 406.4 898.6 405.6 892.4 405.7C886.2 405.8 874.5 405.7 872.0 407.0C869.5 408.3 874.6 411.4 877.1 413.3C879.6 415.2 882.2 416.7 887.3 418.4C892.4 420.1 900.0 422.4 907.6 423.5C915.2 424.6 925.0 425.3 933.0 425.3C941.0 425.3 950.4 424.4 955.9 423.5C961.4 422.6 964.1 421.4 966.0 419.7C967.9 418.0 968.6 415.2 967.3 413.3C966.0 411.4 962.8 409.2 958.4 408.2C954.0 407.1 944.3 407.1 940.6 407.0C936.9 406.9 936.8 407.4 936.0 407.5"/>
<path class="c" stroke="#880000" d="M587.3 246.2C585.8 247.9 581.6 252.9 578.4 256.3C575.2 259.7 572.0 263.9 568.2 266.5C564.4 269.1 559.7 271.0 555.5 271.6C551.3 272.2 546.6 271.6 542.8 270.3C539.0 269.0 535.2 266.8 532.7 264.0C530.2 261.2 528.5 257.0 527.6 253.8C526.7 250.6 526.7 247.7 527.1 244.9C527.5 242.2 528.3 239.2 530.1 237.3C531.9 235.4 534.8 234.6 537.8 233.5C540.8 232.4 543.7 231.2 547.9 231.0C552.1 230.8 558.0 230.9 563.1 232.2C568.2 233.5 574.4 236.3 578.4 238.6C582.4 240.8 585.8 244.5 587.3 245.7"/>
<path class="c" stroke="#880000" d="M348.7 322.4C347.0 321.5 340.8 319.2 338.5 317.3C336.2 315.4 334.7 313.0 334.7 310.9C334.7 308.8 335.8 306.5 338.5 304.6C341.2 302.7 345.9 301.0 351.2 299.5C356.4 298.0 365.1 296.3 370.0 295.7C374.9 295.1 375.2 296.5 380.3 295.7C385.4 294.9 394.2 292.5 400.6 290.6C407.0 288.7 413.3 286.8 418.4 284.3C423.5 281.8 427.3 277.6 431.1 275.4C434.9 273.1 438.8 271.4 441.3 270.8C443.8 270.2 445.2 271.8 446.0 272.0"/>
<path class="c" stroke="#880000" d="M470.0 284.0C470.3 284.1 468.0 282.8 471.7 284.3C475.4 285.8 485.2 290.4 492.0 293.2C498.8 295.9 505.6 298.3 512.4 300.8C519.2 303.3 527.2 306.1 532.7 308.4C538.2 310.7 542.4 312.5 545.4 314.8C548.4 317.1 550.3 320.5 550.5 322.4C550.7 324.3 549.6 325.4 546.6 326.2C543.6 327.0 538.4 327.6 532.7 327.4C527.0 327.2 520.0 325.9 512.4 324.9C504.8 323.8 495.5 322.2 487.0 321.1C478.5 320.0 470.1 318.9 461.6 318.5C453.1 318.1 444.7 318.3 436.2 318.5C427.7 318.7 419.3 319.2 410.8 319.8C402.3 320.4 392.2 321.8 385.4 322.4C378.6 323.0 372.7 323.4 370.2 323.6"/>
<path class="c" stroke="#880000" d="M599.0 324.0C597.4 324.3 592.4 325.0 589.3 326.0C586.2 327.0 581.8 328.8 580.5 329.9C579.2 331.0 580.0 331.8 581.5 332.8C583.0 333.8 584.8 335.1 589.3 335.7C593.8 336.3 601.3 336.8 608.8 336.7C616.3 336.6 627.0 335.6 634.2 334.8C641.4 334.0 647.6 333.0 651.8 331.8C656.0 330.6 658.6 329.4 659.6 327.9C660.6 326.4 659.7 324.8 657.7 323.0C655.8 321.2 651.8 318.8 647.9 317.2C644.0 315.6 638.1 313.9 634.2 313.3C630.3 312.7 626.1 313.3 624.5 313.3"/>
<path class="c" stroke="#880000" d="M437.0 531.0C436.0 530.7 433.1 531.1 430.9 529.3C428.7 527.5 427.3 523.2 423.7 520.2C420.1 517.2 414.1 513.9 409.2 511.2C404.2 508.5 396.4 506.1 394.0 504.0C391.6 501.9 389.8 501.2 394.7 498.5C399.6 495.8 415.8 491.3 423.7 487.7C431.6 484.1 436.7 480.7 441.8 476.8C446.9 472.9 449.0 467.5 454.4 464.2C459.8 460.9 466.4 458.9 474.3 456.9C482.2 454.9 491.4 453.6 502.0 452.0C512.6 450.4 525.7 448.9 538.1 447.3C550.5 445.7 564.9 443.1 576.2 442.2C587.5 441.3 601.0 441.9 606.0 441.8"/>
<path class="c" stroke="#880000" d="M633.3 447.3C634.1 448.4 638.4 450.4 638.4 453.6C638.4 456.8 634.6 461.4 633.3 466.3C632.0 471.2 632.3 479.0 630.8 482.8C629.3 486.6 628.4 486.9 624.4 489.2C620.4 491.5 612.6 494.1 606.7 496.8C600.8 499.6 594.4 502.3 588.9 505.7C583.4 509.1 578.3 513.5 573.6 517.1C568.9 520.7 564.7 523.9 560.9 527.3C557.1 530.7 554.6 534.3 550.8 537.5C547.0 540.7 543.2 543.2 538.1 546.3C533.0 549.4 527.3 552.5 520.3 556.0C513.3 559.5 504.3 564.9 496.0 567.3C487.7 569.7 477.9 570.5 470.7 570.2C463.5 569.9 457.4 568.1 452.6 565.5C447.8 562.9 444.1 556.9 441.8 554.6C439.5 552.4 439.5 552.4 439.0 552.0"/>
<path class="c" stroke="#c00000" d="M812.0 331.0C812.3 330.0 813.5 329.0 815.0 328.5C816.5 328.0 819.1 327.8 821.0 328.0C822.9 328.2 825.4 329.1 826.5 330.0C827.6 330.9 827.9 332.4 827.5 333.5C827.1 334.6 825.6 336.0 824.0 336.5C822.4 337.0 819.8 336.8 818.0 336.5C816.2 336.2 814.0 335.4 813.0 334.5C812.0 333.6 811.7 332.0 812.0 331.0Z"/>
<path class="c" stroke="#c00000" d="M810.0 351.8C810.9 351.1 820.1 351.1 821.0 351.8C821.9 352.5 817.3 356.0 815.5 356.0C813.7 356.0 809.1 352.5 810.0 351.8Z"/>
<line x1="119" y1="389.9" x2="993" y2="389.9" stroke="#0000ff" stroke-width="1.8"/>
<text class="lb" transform="translate(229.9 45.6) rotate(-65)" y="7.6">83</text>
<text class="lb" transform="translate(235.7 129.3) rotate(-48)" y="7.6">86</text>
<text class="lb" transform="translate(325.9 114.1) rotate(-30)" y="7.6">89</text>
<text class="lb" transform="translate(130.7 201.3) rotate(-54)" y="7.6">80</text>
<text class="lb" transform="translate(117.5 156.7) rotate(-60)" y="7.6">70</text>
<text class="lb" transform="translate(110.0 116.7) rotate(-60)" y="7.6">60</text>
<text class="lb" transform="translate(435.0 175.0) rotate(68)" y="7.6">91</text>
<text class="lb" transform="translate(475.0 181.0) rotate(28)" y="7.6">89</text>
<text class="lb" transform="translate(341.1 242.4) rotate(65)" y="7.6">92</text>
<text class="lb" transform="translate(320.8 267.8) rotate(55)" y="7.6">91</text>
<text class="lb" transform="translate(457.8 280.5) rotate(15)" y="7.6">93</text>
<text class="lb" transform="translate(210.3 303.3) rotate(-27)" y="7.6">89</text>
<text class="lb" transform="translate(295.4 323.6) rotate(15)" y="7.6">91</text>
<text class="lb" transform="translate(336.0 325.0) rotate(5)" y="7.6">92</text>
<text class="lb" transform="translate(358.5 324.0) rotate(0)" y="7.6">93</text>
<text class="lb" transform="translate(167.9 331.3) rotate(4)" y="7.6">86</text>
<text class="lb" transform="translate(212.8 351.7) rotate(6)" y="7.6">83</text>
<text class="lb" transform="translate(478.8 353.7) rotate(6)" y="7.6">89</text>
<text class="lb" transform="translate(541.6 238.0) rotate(-8)" y="7.6">93</text>
<text class="lb" transform="translate(556.5 233.0) rotate(8)" y="7.6">92</text>
<text class="lb" transform="translate(597.5 249.0) rotate(50)" y="7.6">83</text>
<text class="lb" transform="translate(615.7 271.3) rotate(17)" y="7.6">86</text>
<text class="lb" transform="translate(630.3 293.8) rotate(8)" y="7.6">91</text>
<text class="lb" transform="translate(611.8 320.1) rotate(-15)" y="7.6">93</text>
<text class="lb" transform="translate(639.7 346.9) rotate(3)" y="7.6">92</text>
<text class="lb" transform="translate(594.9 351.9) rotate(3)" y="7.6">91</text>
<text class="lb" transform="translate(714.3 316.2) rotate(0)" y="7.6">89</text>
<text class="lb" transform="translate(697.0 288.0) rotate(30)" y="7.6">80</text>
<text class="lb" transform="translate(761.3 362.3) rotate(0)" y="7.6">89</text>
<text class="lb" transform="translate(825.0 370.0) rotate(0)" y="7.6">86</text>
<text class="lb" transform="translate(865.9 331.6) rotate(10)" y="7.6">83</text>
<text class="lb" transform="translate(891.4 339.5) rotate(10)" y="7.6">86</text>
<text class="lb" transform="translate(983.0 344.7) rotate(10)" y="7.6">86</text>
<text class="lb" transform="translate(991.0 399.5) rotate(0)" y="7.6">86</text>
<text class="lb" transform="translate(1002.0 381.0) rotate(0)" y="7.6">83</text>
<text class="lb" transform="translate(879.7 399.4) rotate(0)" y="7.6">89</text>
<text class="lb" transform="translate(882.0 410.8) rotate(-5)" y="7.6">91</text>
<text class="lb" transform="translate(922.8 412.0) rotate(0)" y="7.6">92</text>
<text class="lb" transform="translate(797.9 460.9) rotate(-25)" y="7.6">91</text>
<text class="lb" transform="translate(849.2 474.9) rotate(-15)" y="7.6">89</text>
<text class="lb" transform="translate(988.0 467.0) rotate(-10)" y="7.6">86</text>
<text class="lb" transform="translate(991.0 473.0) rotate(-10)" y="7.6">83</text>
<text class="lb" transform="translate(997.0 461.0) rotate(-10)" y="7.6">80</text>
<text class="lb" transform="translate(727.8 430.8) rotate(0)" y="7.6">92</text>
<text class="lb" transform="translate(692.2 497.3) rotate(-30)" y="7.6">92</text>
<text class="lb" transform="translate(580.0 420.6) rotate(-5)" y="7.6">91</text>
<text class="lb" transform="translate(619.4 446.0) rotate(5)" y="7.6">93</text>
<text class="lb" transform="translate(485.2 412.4) rotate(-5)" y="7.6">89</text>
<text class="lb" transform="translate(410.8 388.7) rotate(-5)" y="7.6">86</text>
<text class="lb" transform="translate(432.7 458.7) rotate(-25)" y="7.6">92</text>
<text class="lb" transform="translate(435.2 542.0) rotate(75)" y="7.6">93</text>
<text class="lb" transform="translate(299.2 467.3) rotate(-55)" y="7.6">91</text>
<text class="lb" transform="translate(215.4 477.4) rotate(40)" y="7.6">89</text>
<text class="lb" transform="translate(135.4 460.9) rotate(15)" y="7.6">89</text>
<text class="lb" transform="translate(145.0 478.0) rotate(20)" y="7.6">86</text>
<text class="lb" transform="translate(142.1 489.7) rotate(20)" y="7.6">83</text>
<text class="lb" transform="translate(133.4 504.3) rotate(25)" y="7.6">80</text>
<text class="lb" transform="translate(131.6 412.7) rotate(0)" y="7.6">86</text>
<text class="lb" transform="translate(128.0 390.0) rotate(0)" y="7.6">83</text>
<text class="lb" transform="translate(229.3 394.9) rotate(90)" y="7.6">80</text>
<text class="lb" transform="translate(440.0 632.0) rotate(10)" y="7.6">91</text>
</g>
<path d="M119.0 19.5L297.0 19.5L378.0 42.5L403.2 69.0L420.0 86.5L451.3 120.0L482.5 149.7L513.8 179.4L545.0 204.4L576.3 224.7L598.0 238.8L638.1 258.6L677.2 278.1L716.3 291.8L737.6 299.0L764.0 307.0L790.3 314.0L811.4 320.2L834.3 322.8L860.6 328.0L895.8 335.0L917.8 338.0L954.8 341.6L975.6 343.6L993.0 345.8" fill="none" stroke="#ff0000" stroke-width="2.7" stroke-dasharray="9.5 3.2 2.8 3.2"/>
<path d="M119.0 631.6L309.0 632.0L314.0 633.6L339.0 634.8L372.0 635.5L380.0 636.5L407.0 636.7L456.0 636.3L466.0 631.3L477.5 624.4L490.0 618.4L520.6 605.0L561.3 587.8L598.8 572.2L630.0 561.3L655.0 553.4L673.0 549.6L742.5 549.6L765.4 539.7L803.5 524.4L841.6 510.5L879.7 499.2L898.8 494.2L917.8 489.6L936.0 485.7L955.9 481.2L972.0 477.6L993.0 473.0" fill="none" stroke="#ff0000" stroke-width="2.7" stroke-dasharray="9.5 3.2 2.8 3.2"/>
</g>
<rect x="118.75" y="16.95" width="874.25" height="623.25" fill="none" stroke="#000" stroke-width="1.9"/>
<path d="M227.7 640V631.0M227.7 17V26.0M336.8 640V631.0M336.8 17V26.0M445.9 640V631.0M445.9 17V26.0M555.0 640V631.0M555.0 17V26.0M664.1 640V631.0M664.1 17V26.0M773.2 640V631.0M773.2 17V26.0M882.3 640V631.0M882.3 17V26.0M119 105.0H128.0M993 105.0H984.0M119 194.2H128.0M993 194.2H984.0M119 283.4H128.0M993 283.4H984.0M119 372.6H128.0M993 372.6H984.0M119 461.8H128.0M993 461.8H984.0M119 551.0H128.0M993 551.0H984.0" stroke="#000" stroke-width="1.6" fill="none"/>
<text class="tk" text-anchor="middle" transform="translate(118.0 669.3) scale(0.93 1)">100</text>
<text class="tk" text-anchor="middle" transform="translate(227.1 669.3) scale(0.93 1)">400</text>
<text class="tk" text-anchor="middle" transform="translate(336.2 669.3) scale(0.93 1)">700</text>
<text class="tk" text-anchor="middle" transform="translate(445.3 669.3) scale(0.93 1)">1000</text>
<text class="tk" text-anchor="middle" transform="translate(554.4 669.3) scale(0.93 1)">1300</text>
<text class="tk" text-anchor="middle" transform="translate(663.5 669.3) scale(0.93 1)">1600</text>
<text class="tk" text-anchor="middle" transform="translate(772.6 669.3) scale(0.93 1)">1900</text>
<text class="tk" text-anchor="middle" transform="translate(881.7 669.3) scale(0.93 1)">2200</text>
<text class="tk" text-anchor="middle" transform="translate(990.8 669.3) scale(0.93 1)">2500</text>
<text class="tk" text-anchor="end" transform="translate(111 26.3) scale(0.93 1)">2100</text>
<text class="tk" text-anchor="end" transform="translate(111 114.0) scale(0.93 1)">1600</text>
<text class="tk" text-anchor="end" transform="translate(111 203.5) scale(0.93 1)">1100</text>
<text class="tk" text-anchor="end" transform="translate(111 292.8) scale(0.93 1)">600</text>
<text class="tk" text-anchor="end" transform="translate(111 382.0) scale(0.93 1)">100</text>
<text class="tk" text-anchor="end" transform="translate(111 471.2) scale(0.93 1)">-400</text>
<text class="tk" text-anchor="end" transform="translate(111 560.3) scale(0.93 1)">-900</text>
<text class="tk" text-anchor="end" transform="translate(111 650.2) scale(0.93 1)">-1400</text>
<text class="ax" x="532.5" y="706">Speed/(r/min)</text>
<text class="ax" transform="translate(26 335) rotate(-90)">Torque/Nm</text>
<rect x="749" y="17" width="244" height="71.4" fill="#fff" stroke="#000" stroke-width="1.6"/>
<ellipse cx="793.8" cy="35.4" rx="32.6" ry="12.4" fill="none" stroke="#0000c0" stroke-width="1.3"/>
<ellipse cx="793.8" cy="35.6" rx="22.9" ry="8.5" fill="none" stroke="#ffa500" stroke-width="1.3"/>
<ellipse cx="793.8" cy="36" rx="11.8" ry="4.4" fill="none" stroke="#800000" stroke-width="1.3"/>
<path d="M761 66.4H826" stroke="#ff0000" stroke-width="2.6" stroke-dasharray="11.4 3.8 2.8 3.8" fill="none"/>
<text class="lg" x="833.4" y="45.4" textLength="147.6" lengthAdjust="spacingAndGlyphs">Efficiency/%</text>
<text class="lg" x="832.6" y="79.7" textLength="108.5" lengthAdjust="spacingAndGlyphs">Ttm-max</text>
</svg></body></html>
